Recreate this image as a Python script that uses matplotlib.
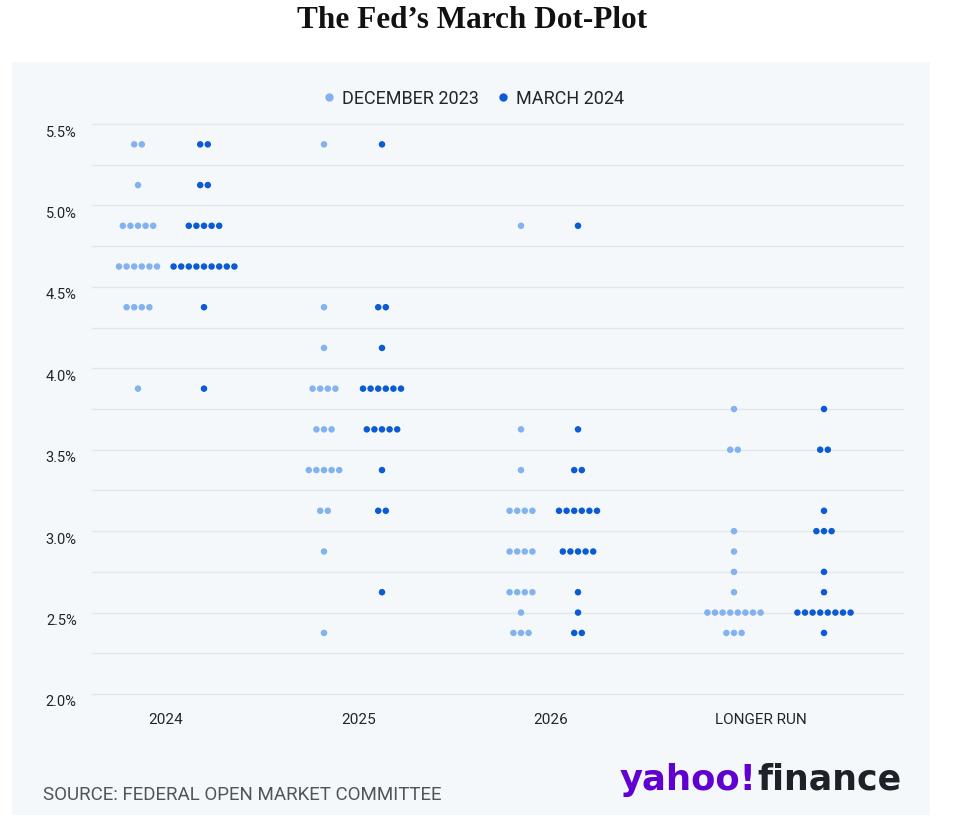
import matplotlib

matplotlib.use("Agg")

import numpy as np
import matplotlib.pyplot as plt
from matplotlib.lines import Line2D
from matplotlib.patches import Rectangle
from matplotlib.transforms import ScaledTranslation


# =============================================================================
# DATA
# =============================================================================

PERIODS = ["2024", "2025", "2026", "LONGER RUN"]

# rate levels (midpoints of the target range, %) shown for each period
LEVELS = [
    [5.375, 5.125, 4.875, 4.625, 4.375, 3.875],
    [5.375, 4.375, 4.125, 3.875, 3.625, 3.375, 3.125, 2.875, 2.625, 2.375],
    [4.875, 3.625, 3.375, 3.125, 2.875, 2.625, 2.5, 2.375],
    [3.75, 3.5, 3.125, 3.0, 2.875, 2.75, 2.625, 2.5, 2.375],
]

# number of participants at each level
DEC_2023 = [
    [2, 1, 5, 6, 4, 1],
    [1, 1, 1, 4, 3, 5, 2, 1, 0, 1],
    [1, 1, 1, 4, 4, 4, 1, 3],
    [1, 2, 0, 1, 1, 1, 1, 8, 3],
]
MAR_2024 = [
    [2, 2, 5, 9, 1, 1],
    [1, 2, 1, 6, 5, 1, 2, 0, 1, 0],
    [1, 1, 2, 6, 5, 1, 1, 2],
    [1, 2, 1, 3, 0, 1, 1, 8, 1],
]

SERIES = ["DECEMBER 2023", "MARCH 2024"]
Y_TICKS = [2.0, 2.5, 3.0, 3.5, 4.0, 4.5, 5.0, 5.5]


# =============================================================================
# LAYOUT / STYLE
# =============================================================================

W, H = 959, 820
DPI = 100

LIGHT = "#82b3f0"
DARK = "#0b5bd5"
PANEL = "#f5f8fb"
GRID = "#e3e6ea"
TEXT = "#222629"

# horizontal layout in pixel units (axes x data == figure pixels)
AX_LEFT, AX_RIGHT = 92, 903
AX_TOP, AX_BOTTOM = 125, 695
DEC_X = [138, 324, 521, 734]
MAR_X = [204, 382, 578, 824]
LABEL_X = [166, 359, 551, 761]
STEP = 7.6

FONT = ["Roboto", "DejaVu Sans"]


def row_positions(center, n):
    return center + (np.arange(n) - (n - 1) / 2.0) * STEP


fig = plt.figure(figsize=(W / DPI, H / DPI), dpi=DPI)
fig.patch.set_facecolor("white")

# light panel behind the chart
fig.patches.append(
    Rectangle(
        (12 / W, 1 - 816 / H),
        (930 - 12) / W,
        (816 - 63) / H,
        transform=fig.transFigure,
        facecolor=PANEL,
        edgecolor="none",
        zorder=-1,
    )
)

ax = fig.add_axes(
    [
        AX_LEFT / W,
        1 - AX_BOTTOM / H,
        (AX_RIGHT - AX_LEFT) / W,
        (AX_BOTTOM - AX_TOP) / H,
    ]
)
ax.set_zorder(1)
ax.set_facecolor("none")
ax.set_xlim(AX_LEFT, AX_RIGHT)
ax.set_ylim(2.0, 5.5)

for yv in np.arange(2.0, 5.5001, 0.25):
    ax.axhline(yv, color=GRID, lw=1.0, zorder=1, clip_on=False)

for centers, counts, color in ((DEC_X, DEC_2023, LIGHT), (MAR_X, MAR_2024, DARK)):
    for p in range(len(PERIODS)):
        for level, n in zip(LEVELS[p], counts[p]):
            if n == 0:
                continue
            xs = row_positions(centers[p], n)
            ax.scatter(
                xs,
                np.full(n, level),
                s=22,
                color=color,
                edgecolors="none",
                zorder=3,
                clip_on=False,
            )

for side in ax.spines.values():
    side.set_visible(False)

ax.set_yticks(Y_TICKS, [f"{v:.1f}%" for v in Y_TICKS])
ax.set_xticks(LABEL_X, PERIODS)
ax.tick_params(axis="y", length=0, pad=11, labelsize=10.5, labelcolor=TEXT)
ax.tick_params(axis="x", length=0, pad=13, labelsize=11, labelcolor=TEXT)
shift = ScaledTranslation(0, -6 / DPI, fig.dpi_scale_trans)
for lab in ax.get_yticklabels():
    lab.set_fontfamily(FONT)
    lab.set_transform(lab.get_transform() + shift)
for lab in ax.get_xticklabels():
    lab.set_fontfamily(FONT)

handles = [
    Line2D([], [], ls="none", marker="o", ms=6, color=c, mec="none")
    for c in (LIGHT, DARK)
]
leg = ax.legend(
    handles,
    SERIES,
    loc="center",
    bbox_to_anchor=(474 / W, 1 - 99 / H),
    bbox_transform=fig.transFigure,
    ncol=2,
    frameon=False,
    handlelength=0.6,
    handletextpad=0.45,
    columnspacing=1.0,
    prop={"family": FONT, "size": 13},
)
for t in leg.get_texts():
    t.set_color(TEXT)

fig.text(
    472 / W,
    1 - 20 / H,
    "The Fed\u2019s March Dot-Plot",
    ha="center",
    va="center",
    family=["Liberation Serif", "DejaVu Serif"],
    weight="bold",
    size=22.5,
    color="#111111",
)

fig.text(
    43 / W,
    1 - 795 / H,
    "SOURCE: FEDERAL OPEN MARKET COMMITTEE",
    ha="left",
    va="center",
    family=FONT,
    size=13.5,
    color="#50555b",
)

# yahoo!finance wordmark
LOGO_FONT = ["DejaVu Sans"]
fig.text(
    620 / W,
    1 - 790 / H,
    "yahoo!",
    ha="left",
    va="baseline",
    family=LOGO_FONT,
    weight="bold",
    size=25.5,
    color="#6001d2",
)
fig.text(
    757 / W,
    1 - 790 / H,
    "finance",
    ha="left",
    va="baseline",
    family=LOGO_FONT,
    weight="bold",
    size=25,
    color="#1d2228",
)

fig.savefig("out.png", dpi=DPI)
